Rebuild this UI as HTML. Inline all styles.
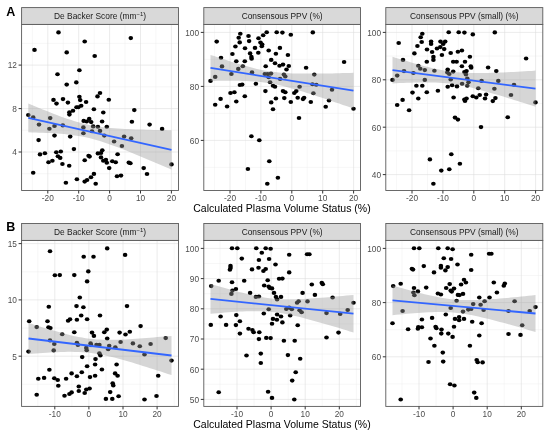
<!DOCTYPE html><html><head><meta charset="utf-8"><title>Figure</title><style>html,body{margin:0;padding:0;background:#fff}svg{display:block}</style></head><body><svg width="550" height="434" viewBox="0 0 550 434" font-family="Liberation Sans, Arial, sans-serif">
<rect width="550" height="434" fill="#fff"/>
<clipPath id="c00"><rect x="21.6" y="24.4" width="156.9" height="166.1"/></clipPath>
<rect x="21.6" y="24.4" width="156.9" height="166.1" fill="#fff"/>
<path d="M21.6 173.7H178.5M21.6 130.3H178.5M21.6 86.8H178.5M21.6 43.4H178.5M32.4 24.4V190.5M63.3 24.4V190.5M94.2 24.4V190.5M125.0 24.4V190.5M155.9 24.4V190.5" stroke="#ececec" stroke-width="0.4" fill="none"/>
<path d="M21.6 152.0H178.5M21.6 108.6H178.5M21.6 65.1H178.5M47.8 24.4V190.5M78.7 24.4V190.5M109.6 24.4V190.5M140.5 24.4V190.5M171.4 24.4V190.5" stroke="#dedede" stroke-width="0.6" fill="none"/>
<g clip-path="url(#c00)">
<g fill="#000"><ellipse cx="58.5" cy="32.4" rx="2.3" ry="2.05"/><ellipse cx="84.7" cy="41.5" rx="2.3" ry="2.05"/><ellipse cx="34.5" cy="49.9" rx="2.3" ry="2.05"/><ellipse cx="66.7" cy="52.4" rx="2.3" ry="2.05"/><ellipse cx="94.7" cy="56.0" rx="2.3" ry="2.05"/><ellipse cx="79.4" cy="70.3" rx="2.3" ry="2.05"/><ellipse cx="57.5" cy="74.2" rx="2.3" ry="2.05"/><ellipse cx="76.3" cy="82.4" rx="2.3" ry="2.05"/><ellipse cx="66.7" cy="84.6" rx="2.3" ry="2.05"/><ellipse cx="100.0" cy="93.0" rx="2.3" ry="2.05"/><ellipse cx="79.4" cy="96.7" rx="2.3" ry="2.05"/><ellipse cx="97.5" cy="96.4" rx="2.3" ry="2.05"/><ellipse cx="53.5" cy="99.9" rx="2.3" ry="2.05"/><ellipse cx="63.0" cy="99.1" rx="2.3" ry="2.05"/><ellipse cx="80.2" cy="100.1" rx="2.3" ry="2.05"/><ellipse cx="56.5" cy="103.6" rx="2.3" ry="2.05"/><ellipse cx="67.9" cy="102.6" rx="2.3" ry="2.05"/><ellipse cx="86.1" cy="102.0" rx="2.3" ry="2.05"/><ellipse cx="81.2" cy="105.8" rx="2.3" ry="2.05"/><ellipse cx="76.5" cy="107.2" rx="2.3" ry="2.05"/><ellipse cx="78.3" cy="107.2" rx="2.3" ry="2.05"/><ellipse cx="93.9" cy="109.3" rx="2.3" ry="2.05"/><ellipse cx="73.0" cy="110.7" rx="2.3" ry="2.05"/><ellipse cx="69.4" cy="112.3" rx="2.3" ry="2.05"/><ellipse cx="69.4" cy="114.6" rx="2.3" ry="2.05"/><ellipse cx="28.3" cy="115.0" rx="2.3" ry="2.05"/><ellipse cx="33.2" cy="117.4" rx="2.3" ry="2.05"/><ellipse cx="50.2" cy="118.1" rx="2.3" ry="2.05"/><ellipse cx="39.0" cy="124.6" rx="2.3" ry="2.05"/><ellipse cx="54.5" cy="126.0" rx="2.3" ry="2.05"/><ellipse cx="62.8" cy="125.4" rx="2.3" ry="2.05"/><ellipse cx="49.4" cy="128.7" rx="2.3" ry="2.05"/><ellipse cx="83.7" cy="120.9" rx="2.3" ry="2.05"/><ellipse cx="86.7" cy="121.5" rx="2.3" ry="2.05"/><ellipse cx="89.2" cy="118.9" rx="2.3" ry="2.05"/><ellipse cx="91.2" cy="122.1" rx="2.3" ry="2.05"/><ellipse cx="83.4" cy="127.4" rx="2.3" ry="2.05"/><ellipse cx="93.2" cy="126.4" rx="2.3" ry="2.05"/><ellipse cx="97.9" cy="126.8" rx="2.3" ry="2.05"/><ellipse cx="83.4" cy="133.2" rx="2.3" ry="2.05"/><ellipse cx="92.0" cy="131.3" rx="2.3" ry="2.05"/><ellipse cx="100.0" cy="130.9" rx="2.3" ry="2.05"/><ellipse cx="54.5" cy="135.6" rx="2.3" ry="2.05"/><ellipse cx="70.2" cy="136.6" rx="2.3" ry="2.05"/><ellipse cx="38.6" cy="140.1" rx="2.3" ry="2.05"/><ellipse cx="73.9" cy="149.1" rx="2.3" ry="2.05"/><ellipse cx="56.3" cy="152.3" rx="2.3" ry="2.05"/><ellipse cx="60.8" cy="151.5" rx="2.3" ry="2.05"/><ellipse cx="40.0" cy="154.4" rx="2.3" ry="2.05"/><ellipse cx="44.9" cy="153.2" rx="2.3" ry="2.05"/><ellipse cx="57.9" cy="156.2" rx="2.3" ry="2.05"/><ellipse cx="60.2" cy="157.9" rx="2.3" ry="2.05"/><ellipse cx="88.6" cy="155.8" rx="2.3" ry="2.05"/><ellipse cx="89.6" cy="156.6" rx="2.3" ry="2.05"/><ellipse cx="97.9" cy="153.4" rx="2.3" ry="2.05"/><ellipse cx="84.7" cy="160.3" rx="2.3" ry="2.05"/><ellipse cx="52.4" cy="160.7" rx="2.3" ry="2.05"/><ellipse cx="48.5" cy="162.3" rx="2.3" ry="2.05"/><ellipse cx="62.4" cy="164.0" rx="2.3" ry="2.05"/><ellipse cx="69.2" cy="165.8" rx="2.3" ry="2.05"/><ellipse cx="33.2" cy="172.7" rx="2.3" ry="2.05"/><ellipse cx="93.9" cy="173.9" rx="2.3" ry="2.05"/><ellipse cx="91.0" cy="177.3" rx="2.3" ry="2.05"/><ellipse cx="76.9" cy="179.2" rx="2.3" ry="2.05"/><ellipse cx="87.1" cy="180.0" rx="2.3" ry="2.05"/><ellipse cx="84.7" cy="181.6" rx="2.3" ry="2.05"/><ellipse cx="65.9" cy="182.7" rx="2.3" ry="2.05"/><ellipse cx="95.7" cy="183.7" rx="2.3" ry="2.05"/><ellipse cx="130.8" cy="38.1" rx="2.3" ry="2.05"/><ellipse cx="108.8" cy="99.7" rx="2.3" ry="2.05"/><ellipse cx="134.3" cy="110.1" rx="2.3" ry="2.05"/><ellipse cx="103.3" cy="112.5" rx="2.3" ry="2.05"/><ellipse cx="102.1" cy="121.5" rx="2.3" ry="2.05"/><ellipse cx="131.9" cy="121.7" rx="2.3" ry="2.05"/><ellipse cx="149.6" cy="124.6" rx="2.3" ry="2.05"/><ellipse cx="106.8" cy="126.8" rx="2.3" ry="2.05"/><ellipse cx="162.1" cy="128.9" rx="2.3" ry="2.05"/><ellipse cx="104.3" cy="135.6" rx="2.3" ry="2.05"/><ellipse cx="124.1" cy="136.6" rx="2.3" ry="2.05"/><ellipse cx="131.2" cy="138.3" rx="2.3" ry="2.05"/><ellipse cx="114.1" cy="141.5" rx="2.3" ry="2.05"/><ellipse cx="121.9" cy="146.0" rx="2.3" ry="2.05"/><ellipse cx="102.3" cy="150.3" rx="2.3" ry="2.05"/><ellipse cx="101.0" cy="153.0" rx="2.3" ry="2.05"/><ellipse cx="117.6" cy="154.2" rx="2.3" ry="2.05"/><ellipse cx="101.0" cy="157.4" rx="2.3" ry="2.05"/><ellipse cx="103.3" cy="160.7" rx="2.3" ry="2.05"/><ellipse cx="105.9" cy="159.7" rx="2.3" ry="2.05"/><ellipse cx="106.8" cy="162.8" rx="2.3" ry="2.05"/><ellipse cx="112.3" cy="161.3" rx="2.3" ry="2.05"/><ellipse cx="115.7" cy="162.3" rx="2.3" ry="2.05"/><ellipse cx="128.8" cy="162.6" rx="2.3" ry="2.05"/><ellipse cx="130.4" cy="163.2" rx="2.3" ry="2.05"/><ellipse cx="109.2" cy="168.1" rx="2.3" ry="2.05"/><ellipse cx="143.7" cy="168.1" rx="2.3" ry="2.05"/><ellipse cx="147.0" cy="174.0" rx="2.3" ry="2.05"/><ellipse cx="117.0" cy="176.2" rx="2.3" ry="2.05"/><ellipse cx="121.0" cy="175.6" rx="2.3" ry="2.05"/><ellipse cx="171.5" cy="164.4" rx="2.3" ry="2.05"/></g>
<polygon points="28.3,103.5 31.9,105.0 35.5,106.5 39.0,107.9 42.6,109.4 46.2,110.8 49.8,112.3 53.4,113.7 56.9,115.0 60.5,116.4 64.1,117.7 67.7,118.9 71.3,120.1 74.8,121.2 78.4,122.3 82.0,123.3 85.6,124.1 89.2,124.9 92.7,125.6 96.3,126.2 99.9,126.8 103.5,127.2 107.1,127.6 110.6,127.9 114.2,128.2 117.8,128.5 121.4,128.7 125.0,128.9 128.5,129.1 132.1,129.2 135.7,129.4 139.3,129.5 142.9,129.6 146.4,129.7 150.0,129.8 153.6,129.9 157.2,130.0 160.8,130.1 164.3,130.1 167.9,130.2 171.5,130.3 171.5,169.5 167.9,168.0 164.3,166.5 160.8,164.9 157.2,163.4 153.6,161.9 150.0,160.4 146.4,158.9 142.9,157.4 139.3,155.9 135.7,154.4 132.1,153.0 128.5,151.5 125.0,150.1 121.4,148.7 117.8,147.3 114.2,146.0 110.6,144.7 107.1,143.4 103.5,142.2 99.9,141.0 96.3,140.0 92.7,139.0 89.2,138.1 85.6,137.3 82.0,136.5 78.4,135.9 74.8,135.4 71.3,134.9 67.7,134.5 64.1,134.1 60.5,133.8 56.9,133.6 53.4,133.3 49.8,133.1 46.2,133.0 42.6,132.8 39.0,132.7 35.5,132.5 31.9,132.4 28.3,132.3" fill="#999" fill-opacity="0.4"/>
<line x1="28.3" y1="117.9" x2="171.5" y2="149.9" stroke="#3366ff" stroke-width="1.8"/>
</g>
<rect x="21.6" y="24.4" width="156.9" height="166.1" fill="none" stroke="#5a5a5a" stroke-width="0.9"/>
<rect x="21.6" y="7.6" width="156.9" height="16.8" fill="#d9d9d9" stroke="#5a5a5a" stroke-width="0.9"/>
<text x="100.05" y="19.0" font-size="8.4" fill="#1a1a1a" text-anchor="middle">De Backer Score (mm<tspan font-size="6" dy="-3">−1</tspan><tspan dy="3">)</tspan></text>
<text x="16.9" y="155.3" font-size="8.3" fill="#4d4d4d" text-anchor="end">4</text>
<text x="16.9" y="111.9" font-size="8.3" fill="#4d4d4d" text-anchor="end">8</text>
<text x="16.9" y="68.4" font-size="8.3" fill="#4d4d4d" text-anchor="end">12</text>
<text x="47.8" y="200.6" font-size="8.3" fill="#4d4d4d" text-anchor="middle">-20</text>
<text x="78.7" y="200.6" font-size="8.3" fill="#4d4d4d" text-anchor="middle">-10</text>
<text x="109.6" y="200.6" font-size="8.3" fill="#4d4d4d" text-anchor="middle">0</text>
<text x="140.5" y="200.6" font-size="8.3" fill="#4d4d4d" text-anchor="middle">10</text>
<text x="171.4" y="200.6" font-size="8.3" fill="#4d4d4d" text-anchor="middle">20</text>
<path d="M18.6 152.0H21.6M18.6 108.6H21.6M18.6 65.1H21.6M47.8 190.5V193.5M78.7 190.5V193.5M109.6 190.5V193.5M140.5 190.5V193.5M171.4 190.5V193.5" stroke="#333" stroke-width="1" fill="none"/>
<clipPath id="c01"><rect x="203.8" y="24.4" width="156.7" height="166.1"/></clipPath>
<rect x="203.8" y="24.4" width="156.7" height="166.1" fill="#fff"/>
<path d="M203.8 167.4H360.5M203.8 113.4H360.5M203.8 59.4H360.5M214.6 24.4V190.5M245.5 24.4V190.5M276.4 24.4V190.5M307.2 24.4V190.5M338.1 24.4V190.5" stroke="#ececec" stroke-width="0.4" fill="none"/>
<path d="M203.8 140.4H360.5M203.8 86.4H360.5M203.8 32.4H360.5M230.0 24.4V190.5M260.9 24.4V190.5M291.8 24.4V190.5M322.7 24.4V190.5M353.6 24.4V190.5" stroke="#dedede" stroke-width="0.6" fill="none"/>
<g clip-path="url(#c01)">
<g fill="#000"><ellipse cx="266.7" cy="32.2" rx="2.3" ry="2.05"/><ellipse cx="276.7" cy="32.2" rx="2.3" ry="2.05"/><ellipse cx="282.4" cy="32.6" rx="2.3" ry="2.05"/><ellipse cx="240.3" cy="33.8" rx="2.3" ry="2.05"/><ellipse cx="248.5" cy="36.0" rx="2.3" ry="2.05"/><ellipse cx="263.2" cy="35.2" rx="2.3" ry="2.05"/><ellipse cx="238.7" cy="37.7" rx="2.3" ry="2.05"/><ellipse cx="258.5" cy="38.3" rx="2.3" ry="2.05"/><ellipse cx="216.7" cy="41.6" rx="2.3" ry="2.05"/><ellipse cx="239.7" cy="42.4" rx="2.3" ry="2.05"/><ellipse cx="249.1" cy="41.1" rx="2.3" ry="2.05"/><ellipse cx="260.5" cy="42.6" rx="2.3" ry="2.05"/><ellipse cx="262.2" cy="44.6" rx="2.3" ry="2.05"/><ellipse cx="261.8" cy="46.2" rx="2.3" ry="2.05"/><ellipse cx="235.4" cy="46.5" rx="2.3" ry="2.05"/><ellipse cx="245.0" cy="48.3" rx="2.3" ry="2.05"/><ellipse cx="255.0" cy="47.9" rx="2.3" ry="2.05"/><ellipse cx="279.9" cy="47.9" rx="2.3" ry="2.05"/><ellipse cx="268.7" cy="50.5" rx="2.3" ry="2.05"/><ellipse cx="232.4" cy="54.0" rx="2.3" ry="2.05"/><ellipse cx="250.1" cy="53.4" rx="2.3" ry="2.05"/><ellipse cx="258.3" cy="52.8" rx="2.3" ry="2.05"/><ellipse cx="275.9" cy="53.8" rx="2.3" ry="2.05"/><ellipse cx="251.4" cy="56.9" rx="2.3" ry="2.05"/><ellipse cx="251.6" cy="58.7" rx="2.3" ry="2.05"/><ellipse cx="221.0" cy="57.7" rx="2.3" ry="2.05"/><ellipse cx="236.3" cy="61.3" rx="2.3" ry="2.05"/><ellipse cx="244.8" cy="61.3" rx="2.3" ry="2.05"/><ellipse cx="271.2" cy="59.9" rx="2.3" ry="2.05"/><ellipse cx="275.0" cy="63.2" rx="2.3" ry="2.05"/><ellipse cx="222.0" cy="66.4" rx="2.3" ry="2.05"/><ellipse cx="242.8" cy="66.2" rx="2.3" ry="2.05"/><ellipse cx="265.7" cy="66.2" rx="2.3" ry="2.05"/><ellipse cx="279.5" cy="65.8" rx="2.3" ry="2.05"/><ellipse cx="238.3" cy="68.9" rx="2.3" ry="2.05"/><ellipse cx="252.0" cy="72.4" rx="2.3" ry="2.05"/><ellipse cx="231.4" cy="74.0" rx="2.3" ry="2.05"/><ellipse cx="264.8" cy="74.0" rx="2.3" ry="2.05"/><ellipse cx="267.7" cy="74.0" rx="2.3" ry="2.05"/><ellipse cx="271.0" cy="73.6" rx="2.3" ry="2.05"/><ellipse cx="215.2" cy="76.9" rx="2.3" ry="2.05"/><ellipse cx="268.7" cy="77.3" rx="2.3" ry="2.05"/><ellipse cx="280.1" cy="78.9" rx="2.3" ry="2.05"/><ellipse cx="210.5" cy="80.9" rx="2.3" ry="2.05"/><ellipse cx="270.1" cy="82.2" rx="2.3" ry="2.05"/><ellipse cx="255.9" cy="83.8" rx="2.3" ry="2.05"/><ellipse cx="239.9" cy="85.0" rx="2.3" ry="2.05"/><ellipse cx="242.2" cy="84.6" rx="2.3" ry="2.05"/><ellipse cx="273.0" cy="85.8" rx="2.3" ry="2.05"/><ellipse cx="275.0" cy="86.7" rx="2.3" ry="2.05"/><ellipse cx="265.4" cy="91.1" rx="2.3" ry="2.05"/><ellipse cx="230.5" cy="93.0" rx="2.3" ry="2.05"/><ellipse cx="234.4" cy="92.2" rx="2.3" ry="2.05"/><ellipse cx="244.8" cy="96.2" rx="2.3" ry="2.05"/><ellipse cx="275.9" cy="98.5" rx="2.3" ry="2.05"/><ellipse cx="220.6" cy="98.9" rx="2.3" ry="2.05"/><ellipse cx="236.3" cy="101.5" rx="2.3" ry="2.05"/><ellipse cx="271.2" cy="102.4" rx="2.3" ry="2.05"/><ellipse cx="215.2" cy="104.8" rx="2.3" ry="2.05"/><ellipse cx="227.1" cy="106.5" rx="2.3" ry="2.05"/><ellipse cx="273.0" cy="109.2" rx="2.3" ry="2.05"/><ellipse cx="251.4" cy="136.3" rx="2.3" ry="2.05"/><ellipse cx="259.3" cy="140.2" rx="2.3" ry="2.05"/><ellipse cx="269.3" cy="161.2" rx="2.3" ry="2.05"/><ellipse cx="247.9" cy="169.0" rx="2.3" ry="2.05"/><ellipse cx="277.9" cy="177.8" rx="2.3" ry="2.05"/><ellipse cx="267.3" cy="183.7" rx="2.3" ry="2.05"/><ellipse cx="290.8" cy="34.8" rx="2.3" ry="2.05"/><ellipse cx="312.8" cy="32.4" rx="2.3" ry="2.05"/><ellipse cx="287.9" cy="55.0" rx="2.3" ry="2.05"/><ellipse cx="344.1" cy="62.0" rx="2.3" ry="2.05"/><ellipse cx="283.0" cy="64.6" rx="2.3" ry="2.05"/><ellipse cx="288.8" cy="66.0" rx="2.3" ry="2.05"/><ellipse cx="286.5" cy="69.5" rx="2.3" ry="2.05"/><ellipse cx="306.1" cy="67.7" rx="2.3" ry="2.05"/><ellipse cx="283.9" cy="74.6" rx="2.3" ry="2.05"/><ellipse cx="285.3" cy="76.5" rx="2.3" ry="2.05"/><ellipse cx="314.3" cy="74.6" rx="2.3" ry="2.05"/><ellipse cx="312.4" cy="84.2" rx="2.3" ry="2.05"/><ellipse cx="316.3" cy="84.8" rx="2.3" ry="2.05"/><ellipse cx="299.6" cy="86.7" rx="2.3" ry="2.05"/><ellipse cx="332.0" cy="89.7" rx="2.3" ry="2.05"/><ellipse cx="283.0" cy="91.1" rx="2.3" ry="2.05"/><ellipse cx="285.3" cy="92.2" rx="2.3" ry="2.05"/><ellipse cx="296.3" cy="91.1" rx="2.3" ry="2.05"/><ellipse cx="294.3" cy="93.0" rx="2.3" ry="2.05"/><ellipse cx="313.4" cy="93.2" rx="2.3" ry="2.05"/><ellipse cx="284.3" cy="98.1" rx="2.3" ry="2.05"/><ellipse cx="297.7" cy="97.7" rx="2.3" ry="2.05"/><ellipse cx="304.1" cy="97.7" rx="2.3" ry="2.05"/><ellipse cx="303.0" cy="99.1" rx="2.3" ry="2.05"/><ellipse cx="290.8" cy="102.0" rx="2.3" ry="2.05"/><ellipse cx="310.8" cy="102.0" rx="2.3" ry="2.05"/><ellipse cx="329.0" cy="100.5" rx="2.3" ry="2.05"/><ellipse cx="325.7" cy="106.7" rx="2.3" ry="2.05"/><ellipse cx="353.5" cy="108.7" rx="2.3" ry="2.05"/><ellipse cx="299.0" cy="118.0" rx="2.3" ry="2.05"/></g>
<polygon points="210.5,54.9 214.1,56.1 217.7,57.3 221.2,58.4 224.8,59.6 228.4,60.8 231.9,61.9 235.5,63.0 239.1,64.1 242.7,65.1 246.2,66.1 249.8,67.1 253.4,68.0 257.0,68.9 260.6,69.7 264.1,70.4 267.7,71.0 271.3,71.6 274.9,72.1 278.4,72.4 282.0,72.8 285.6,73.0 289.1,73.2 292.7,73.4 296.3,73.5 299.9,73.5 303.4,73.6 307.0,73.6 310.6,73.6 314.2,73.6 317.8,73.6 321.3,73.5 324.9,73.5 328.5,73.4 332.1,73.4 335.6,73.3 339.2,73.2 342.8,73.1 346.4,73.0 349.9,72.9 353.5,72.8 353.5,108.6 349.9,107.3 346.4,106.1 342.8,104.9 339.2,103.6 335.6,102.4 332.1,101.2 328.5,100.0 324.9,98.8 321.3,97.6 317.8,96.4 314.2,95.3 310.6,94.1 307.0,93.0 303.4,91.8 299.9,90.8 296.3,89.7 292.7,88.7 289.1,87.7 285.6,86.7 282.0,85.8 278.4,85.0 274.9,84.3 271.3,83.6 267.7,83.0 264.1,82.5 260.6,82.1 257.0,81.7 253.4,81.4 249.8,81.2 246.2,81.1 242.7,80.9 239.1,80.8 235.5,80.8 231.9,80.8 228.4,80.7 224.8,80.7 221.2,80.8 217.7,80.8 214.1,80.9 210.5,80.9" fill="#999" fill-opacity="0.4"/>
<line x1="210.5" y1="67.9" x2="353.5" y2="90.7" stroke="#3366ff" stroke-width="1.8"/>
</g>
<rect x="203.8" y="24.4" width="156.7" height="166.1" fill="none" stroke="#5a5a5a" stroke-width="0.9"/>
<rect x="203.8" y="7.6" width="156.7" height="16.8" fill="#d9d9d9" stroke="#5a5a5a" stroke-width="0.9"/>
<text x="282.15" y="19.0" font-size="8.4" fill="#1a1a1a" text-anchor="middle">Consensous PPV (%)</text>
<text x="199.1" y="143.7" font-size="8.3" fill="#4d4d4d" text-anchor="end">60</text>
<text x="199.1" y="89.7" font-size="8.3" fill="#4d4d4d" text-anchor="end">80</text>
<text x="199.1" y="35.7" font-size="8.3" fill="#4d4d4d" text-anchor="end">100</text>
<text x="230.0" y="200.6" font-size="8.3" fill="#4d4d4d" text-anchor="middle">-20</text>
<text x="260.9" y="200.6" font-size="8.3" fill="#4d4d4d" text-anchor="middle">-10</text>
<text x="291.8" y="200.6" font-size="8.3" fill="#4d4d4d" text-anchor="middle">0</text>
<text x="322.7" y="200.6" font-size="8.3" fill="#4d4d4d" text-anchor="middle">10</text>
<text x="353.6" y="200.6" font-size="8.3" fill="#4d4d4d" text-anchor="middle">20</text>
<path d="M200.8 140.4H203.8M200.8 86.4H203.8M200.8 32.4H203.8M230.0 190.5V193.5M260.9 190.5V193.5M291.8 190.5V193.5M322.7 190.5V193.5M353.6 190.5V193.5" stroke="#333" stroke-width="1" fill="none"/>
<clipPath id="c02"><rect x="385.8" y="24.4" width="157.0" height="166.1"/></clipPath>
<rect x="385.8" y="24.4" width="157.0" height="166.1" fill="#fff"/>
<path d="M385.8 150.9H542.8M385.8 103.5H542.8M385.8 56.1H542.8M396.6 24.4V190.5M427.5 24.4V190.5M458.4 24.4V190.5M489.2 24.4V190.5M520.1 24.4V190.5" stroke="#ececec" stroke-width="0.4" fill="none"/>
<path d="M385.8 174.6H542.8M385.8 127.2H542.8M385.8 79.8H542.8M385.8 32.4H542.8M412.0 24.4V190.5M442.9 24.4V190.5M473.8 24.4V190.5M504.7 24.4V190.5M535.6 24.4V190.5" stroke="#dedede" stroke-width="0.6" fill="none"/>
<g clip-path="url(#c02)">
<g fill="#000"><ellipse cx="448.7" cy="32.2" rx="2.3" ry="2.05"/><ellipse cx="458.7" cy="32.2" rx="2.3" ry="2.05"/><ellipse cx="464.4" cy="32.6" rx="2.3" ry="2.05"/><ellipse cx="422.3" cy="33.8" rx="2.3" ry="2.05"/><ellipse cx="420.7" cy="37.3" rx="2.3" ry="2.05"/><ellipse cx="398.7" cy="43.0" rx="2.3" ry="2.05"/><ellipse cx="421.7" cy="42.0" rx="2.3" ry="2.05"/><ellipse cx="431.1" cy="41.6" rx="2.3" ry="2.05"/><ellipse cx="431.1" cy="44.0" rx="2.3" ry="2.05"/><ellipse cx="440.5" cy="41.6" rx="2.3" ry="2.05"/><ellipse cx="445.2" cy="41.6" rx="2.3" ry="2.05"/><ellipse cx="443.2" cy="44.0" rx="2.3" ry="2.05"/><ellipse cx="417.4" cy="46.0" rx="2.3" ry="2.05"/><ellipse cx="437.0" cy="48.5" rx="2.3" ry="2.05"/><ellipse cx="440.3" cy="47.1" rx="2.3" ry="2.05"/><ellipse cx="444.2" cy="49.1" rx="2.3" ry="2.05"/><ellipse cx="427.0" cy="49.5" rx="2.3" ry="2.05"/><ellipse cx="432.1" cy="52.0" rx="2.3" ry="2.05"/><ellipse cx="461.9" cy="50.5" rx="2.3" ry="2.05"/><ellipse cx="457.9" cy="51.8" rx="2.3" ry="2.05"/><ellipse cx="414.4" cy="53.4" rx="2.3" ry="2.05"/><ellipse cx="450.7" cy="53.0" rx="2.3" ry="2.05"/><ellipse cx="441.9" cy="55.0" rx="2.3" ry="2.05"/><ellipse cx="433.4" cy="56.9" rx="2.3" ry="2.05"/><ellipse cx="433.4" cy="59.9" rx="2.3" ry="2.05"/><ellipse cx="403.0" cy="59.9" rx="2.3" ry="2.05"/><ellipse cx="426.8" cy="61.8" rx="2.3" ry="2.05"/><ellipse cx="453.2" cy="61.8" rx="2.3" ry="2.05"/><ellipse cx="456.6" cy="61.8" rx="2.3" ry="2.05"/><ellipse cx="418.3" cy="65.8" rx="2.3" ry="2.05"/><ellipse cx="461.9" cy="66.2" rx="2.3" ry="2.05"/><ellipse cx="420.3" cy="68.7" rx="2.3" ry="2.05"/><ellipse cx="424.8" cy="70.1" rx="2.3" ry="2.05"/><ellipse cx="447.7" cy="69.5" rx="2.3" ry="2.05"/><ellipse cx="434.4" cy="70.7" rx="2.3" ry="2.05"/><ellipse cx="404.0" cy="71.1" rx="2.3" ry="2.05"/><ellipse cx="453.2" cy="71.6" rx="2.3" ry="2.05"/><ellipse cx="447.4" cy="72.4" rx="2.3" ry="2.05"/><ellipse cx="464.4" cy="72.0" rx="2.3" ry="2.05"/><ellipse cx="413.4" cy="73.0" rx="2.3" ry="2.05"/><ellipse cx="449.3" cy="74.0" rx="2.3" ry="2.05"/><ellipse cx="397.2" cy="75.6" rx="2.3" ry="2.05"/><ellipse cx="450.7" cy="79.5" rx="2.3" ry="2.05"/><ellipse cx="392.5" cy="79.9" rx="2.3" ry="2.05"/><ellipse cx="424.8" cy="79.9" rx="2.3" ry="2.05"/><ellipse cx="462.1" cy="83.8" rx="2.3" ry="2.05"/><ellipse cx="416.4" cy="85.8" rx="2.3" ry="2.05"/><ellipse cx="422.3" cy="85.8" rx="2.3" ry="2.05"/><ellipse cx="452.1" cy="85.2" rx="2.3" ry="2.05"/><ellipse cx="447.7" cy="86.7" rx="2.3" ry="2.05"/><ellipse cx="457.0" cy="86.4" rx="2.3" ry="2.05"/><ellipse cx="437.9" cy="90.7" rx="2.3" ry="2.05"/><ellipse cx="412.5" cy="92.6" rx="2.3" ry="2.05"/><ellipse cx="426.8" cy="92.2" rx="2.3" ry="2.05"/><ellipse cx="453.6" cy="97.5" rx="2.3" ry="2.05"/><ellipse cx="418.3" cy="98.5" rx="2.3" ry="2.05"/><ellipse cx="402.6" cy="99.9" rx="2.3" ry="2.05"/><ellipse cx="464.4" cy="99.5" rx="2.3" ry="2.05"/><ellipse cx="397.2" cy="105.0" rx="2.3" ry="2.05"/><ellipse cx="409.1" cy="110.2" rx="2.3" ry="2.05"/><ellipse cx="455.0" cy="117.6" rx="2.3" ry="2.05"/><ellipse cx="457.9" cy="119.6" rx="2.3" ry="2.05"/><ellipse cx="451.3" cy="154.3" rx="2.3" ry="2.05"/><ellipse cx="429.9" cy="159.4" rx="2.3" ry="2.05"/><ellipse cx="459.9" cy="163.7" rx="2.3" ry="2.05"/><ellipse cx="441.3" cy="170.6" rx="2.3" ry="2.05"/><ellipse cx="449.3" cy="169.2" rx="2.3" ry="2.05"/><ellipse cx="433.4" cy="183.7" rx="2.3" ry="2.05"/><ellipse cx="472.8" cy="34.4" rx="2.3" ry="2.05"/><ellipse cx="494.8" cy="32.4" rx="2.3" ry="2.05"/><ellipse cx="469.9" cy="56.7" rx="2.3" ry="2.05"/><ellipse cx="526.1" cy="58.5" rx="2.3" ry="2.05"/><ellipse cx="465.0" cy="61.8" rx="2.3" ry="2.05"/><ellipse cx="470.8" cy="66.2" rx="2.3" ry="2.05"/><ellipse cx="471.2" cy="67.7" rx="2.3" ry="2.05"/><ellipse cx="488.1" cy="67.5" rx="2.3" ry="2.05"/><ellipse cx="466.5" cy="71.1" rx="2.3" ry="2.05"/><ellipse cx="496.3" cy="71.1" rx="2.3" ry="2.05"/><ellipse cx="465.9" cy="74.4" rx="2.3" ry="2.05"/><ellipse cx="467.3" cy="78.5" rx="2.3" ry="2.05"/><ellipse cx="481.6" cy="80.9" rx="2.3" ry="2.05"/><ellipse cx="498.3" cy="80.9" rx="2.3" ry="2.05"/><ellipse cx="468.5" cy="82.2" rx="2.3" ry="2.05"/><ellipse cx="514.0" cy="84.8" rx="2.3" ry="2.05"/><ellipse cx="467.3" cy="85.8" rx="2.3" ry="2.05"/><ellipse cx="478.3" cy="88.3" rx="2.3" ry="2.05"/><ellipse cx="494.4" cy="88.7" rx="2.3" ry="2.05"/><ellipse cx="511.0" cy="95.0" rx="2.3" ry="2.05"/><ellipse cx="486.1" cy="94.6" rx="2.3" ry="2.05"/><ellipse cx="479.7" cy="95.0" rx="2.3" ry="2.05"/><ellipse cx="472.8" cy="96.2" rx="2.3" ry="2.05"/><ellipse cx="476.3" cy="97.5" rx="2.3" ry="2.05"/><ellipse cx="466.5" cy="98.5" rx="2.3" ry="2.05"/><ellipse cx="485.0" cy="98.5" rx="2.3" ry="2.05"/><ellipse cx="495.4" cy="98.1" rx="2.3" ry="2.05"/><ellipse cx="465.0" cy="100.9" rx="2.3" ry="2.05"/><ellipse cx="492.8" cy="101.1" rx="2.3" ry="2.05"/><ellipse cx="535.5" cy="102.4" rx="2.3" ry="2.05"/><ellipse cx="507.7" cy="117.3" rx="2.3" ry="2.05"/><ellipse cx="481.0" cy="127.1" rx="2.3" ry="2.05"/></g>
<polygon points="392.5,56.8 396.1,57.9 399.6,59.0 403.2,60.1 406.8,61.1 410.4,62.2 413.9,63.2 417.5,64.2 421.1,65.2 424.7,66.2 428.2,67.1 431.8,68.0 435.4,68.8 439.0,69.6 442.6,70.3 446.1,71.0 449.7,71.5 453.3,72.0 456.9,72.3 460.4,72.6 464.0,72.8 467.6,73.0 471.1,73.1 474.7,73.1 478.3,73.1 481.9,73.1 485.4,73.0 489.0,72.9 492.6,72.8 496.2,72.7 499.8,72.6 503.3,72.4 506.9,72.2 510.5,72.1 514.0,71.9 517.6,71.7 521.2,71.5 524.8,71.3 528.4,71.1 531.9,70.9 535.5,70.6 535.5,106.8 531.9,105.6 528.4,104.5 524.8,103.3 521.2,102.2 517.6,101.1 514.0,100.0 510.5,98.8 506.9,97.7 503.3,96.6 499.8,95.5 496.2,94.5 492.6,93.4 489.0,92.4 485.4,91.4 481.9,90.4 478.3,89.4 474.7,88.5 471.1,87.6 467.6,86.7 464.0,86.0 460.4,85.2 456.9,84.6 453.3,84.0 449.7,83.6 446.1,83.2 442.6,82.9 439.0,82.7 435.4,82.5 431.8,82.4 428.2,82.4 424.7,82.4 421.1,82.4 417.5,82.5 413.9,82.6 410.4,82.7 406.8,82.8 403.2,82.9 399.6,83.1 396.1,83.3 392.5,83.4" fill="#999" fill-opacity="0.4"/>
<line x1="392.5" y1="70.1" x2="535.5" y2="88.7" stroke="#3366ff" stroke-width="1.8"/>
</g>
<rect x="385.8" y="24.4" width="157.0" height="166.1" fill="none" stroke="#5a5a5a" stroke-width="0.9"/>
<rect x="385.8" y="7.6" width="157.0" height="16.8" fill="#d9d9d9" stroke="#5a5a5a" stroke-width="0.9"/>
<text x="464.29999999999995" y="19.0" font-size="8.4" fill="#1a1a1a" text-anchor="middle">Consensous PPV (small) (%)</text>
<text x="381.1" y="177.9" font-size="8.3" fill="#4d4d4d" text-anchor="end">40</text>
<text x="381.1" y="130.5" font-size="8.3" fill="#4d4d4d" text-anchor="end">60</text>
<text x="381.1" y="83.1" font-size="8.3" fill="#4d4d4d" text-anchor="end">80</text>
<text x="381.1" y="35.7" font-size="8.3" fill="#4d4d4d" text-anchor="end">100</text>
<text x="412.0" y="200.6" font-size="8.3" fill="#4d4d4d" text-anchor="middle">-20</text>
<text x="442.9" y="200.6" font-size="8.3" fill="#4d4d4d" text-anchor="middle">-10</text>
<text x="473.8" y="200.6" font-size="8.3" fill="#4d4d4d" text-anchor="middle">0</text>
<text x="504.7" y="200.6" font-size="8.3" fill="#4d4d4d" text-anchor="middle">10</text>
<text x="535.6" y="200.6" font-size="8.3" fill="#4d4d4d" text-anchor="middle">20</text>
<path d="M382.8 174.6H385.8M382.8 127.2H385.8M382.8 79.8H385.8M382.8 32.4H385.8M412.0 190.5V193.5M442.9 190.5V193.5M473.8 190.5V193.5M504.7 190.5V193.5M535.6 190.5V193.5" stroke="#333" stroke-width="1" fill="none"/>
<text x="282" y="211.9" font-size="10.5" fill="#000" text-anchor="middle">Calculated Plasma Volume Status (%)</text>
<text x="6.3" y="15.5" font-size="12.5" font-weight="bold" fill="#000">A</text>
<clipPath id="c10"><rect x="21.6" y="240.4" width="156.9" height="166.0"/></clipPath>
<rect x="21.6" y="240.4" width="156.9" height="166.0" fill="#fff"/>
<path d="M21.6 384.3H178.5M21.6 328.1H178.5M21.6 271.8H178.5M37.8 240.4V406.4M71.9 240.4V406.4M106.0 240.4V406.4M140.1 240.4V406.4M174.2 240.4V406.4" stroke="#ececec" stroke-width="0.4" fill="none"/>
<path d="M21.6 356.2H178.5M21.6 299.9H178.5M21.6 243.6H178.5M54.8 240.4V406.4M88.9 240.4V406.4M123.0 240.4V406.4M157.1 240.4V406.4" stroke="#dedede" stroke-width="0.6" fill="none"/>
<g clip-path="url(#c10)">
<g fill="#000"><ellipse cx="50.0" cy="251.2" rx="2.3" ry="2.05"/><ellipse cx="83.7" cy="256.7" rx="2.3" ry="2.05"/><ellipse cx="93.5" cy="256.7" rx="2.3" ry="2.05"/><ellipse cx="88.3" cy="271.4" rx="2.3" ry="2.05"/><ellipse cx="54.9" cy="275.3" rx="2.3" ry="2.05"/><ellipse cx="59.8" cy="275.1" rx="2.3" ry="2.05"/><ellipse cx="74.3" cy="275.1" rx="2.3" ry="2.05"/><ellipse cx="87.1" cy="281.4" rx="2.3" ry="2.05"/><ellipse cx="79.8" cy="297.5" rx="2.3" ry="2.05"/><ellipse cx="48.8" cy="306.7" rx="2.3" ry="2.05"/><ellipse cx="76.5" cy="306.1" rx="2.3" ry="2.05"/><ellipse cx="83.4" cy="307.3" rx="2.3" ry="2.05"/><ellipse cx="81.2" cy="315.5" rx="2.3" ry="2.05"/><ellipse cx="100.0" cy="315.5" rx="2.3" ry="2.05"/><ellipse cx="29.2" cy="321.2" rx="2.3" ry="2.05"/><ellipse cx="47.5" cy="321.2" rx="2.3" ry="2.05"/><ellipse cx="70.0" cy="319.3" rx="2.3" ry="2.05"/><ellipse cx="68.1" cy="320.8" rx="2.3" ry="2.05"/><ellipse cx="76.9" cy="319.8" rx="2.3" ry="2.05"/><ellipse cx="87.1" cy="319.3" rx="2.3" ry="2.05"/><ellipse cx="36.7" cy="327.1" rx="2.3" ry="2.05"/><ellipse cx="48.5" cy="327.3" rx="2.3" ry="2.05"/><ellipse cx="50.4" cy="328.1" rx="2.3" ry="2.05"/><ellipse cx="74.3" cy="332.2" rx="2.3" ry="2.05"/><ellipse cx="92.0" cy="332.6" rx="2.3" ry="2.05"/><ellipse cx="93.9" cy="335.9" rx="2.3" ry="2.05"/><ellipse cx="62.2" cy="334.2" rx="2.3" ry="2.05"/><ellipse cx="50.0" cy="340.4" rx="2.3" ry="2.05"/><ellipse cx="54.3" cy="344.0" rx="2.3" ry="2.05"/><ellipse cx="76.9" cy="342.8" rx="2.3" ry="2.05"/><ellipse cx="77.9" cy="344.9" rx="2.3" ry="2.05"/><ellipse cx="90.6" cy="343.4" rx="2.3" ry="2.05"/><ellipse cx="91.0" cy="345.1" rx="2.3" ry="2.05"/><ellipse cx="86.3" cy="347.9" rx="2.3" ry="2.05"/><ellipse cx="86.7" cy="350.2" rx="2.3" ry="2.05"/><ellipse cx="96.5" cy="344.9" rx="2.3" ry="2.05"/><ellipse cx="99.4" cy="344.9" rx="2.3" ry="2.05"/><ellipse cx="53.7" cy="350.4" rx="2.3" ry="2.05"/><ellipse cx="28.5" cy="351.6" rx="2.3" ry="2.05"/><ellipse cx="99.4" cy="353.2" rx="2.3" ry="2.05"/><ellipse cx="100.4" cy="355.5" rx="2.3" ry="2.05"/><ellipse cx="82.2" cy="357.1" rx="2.3" ry="2.05"/><ellipse cx="95.5" cy="359.1" rx="2.3" ry="2.05"/><ellipse cx="95.1" cy="364.5" rx="2.3" ry="2.05"/><ellipse cx="87.1" cy="366.3" rx="2.3" ry="2.05"/><ellipse cx="49.4" cy="369.8" rx="2.3" ry="2.05"/><ellipse cx="81.8" cy="372.2" rx="2.3" ry="2.05"/><ellipse cx="71.6" cy="373.4" rx="2.3" ry="2.05"/><ellipse cx="76.9" cy="376.3" rx="2.3" ry="2.05"/><ellipse cx="95.1" cy="375.7" rx="2.3" ry="2.05"/><ellipse cx="90.0" cy="377.1" rx="2.3" ry="2.05"/><ellipse cx="38.3" cy="378.7" rx="2.3" ry="2.05"/><ellipse cx="44.1" cy="377.9" rx="2.3" ry="2.05"/><ellipse cx="54.3" cy="378.3" rx="2.3" ry="2.05"/><ellipse cx="57.7" cy="380.0" rx="2.3" ry="2.05"/><ellipse cx="66.1" cy="378.7" rx="2.3" ry="2.05"/><ellipse cx="58.3" cy="385.7" rx="2.3" ry="2.05"/><ellipse cx="78.8" cy="386.5" rx="2.3" ry="2.05"/><ellipse cx="89.6" cy="388.5" rx="2.3" ry="2.05"/><ellipse cx="86.3" cy="389.5" rx="2.3" ry="2.05"/><ellipse cx="78.8" cy="391.0" rx="2.3" ry="2.05"/><ellipse cx="84.7" cy="393.0" rx="2.3" ry="2.05"/><ellipse cx="71.6" cy="392.4" rx="2.3" ry="2.05"/><ellipse cx="69.4" cy="394.0" rx="2.3" ry="2.05"/><ellipse cx="36.7" cy="394.7" rx="2.3" ry="2.05"/><ellipse cx="64.5" cy="395.7" rx="2.3" ry="2.05"/><ellipse cx="107.2" cy="248.4" rx="2.3" ry="2.05"/><ellipse cx="125.1" cy="254.9" rx="2.3" ry="2.05"/><ellipse cx="127.0" cy="306.1" rx="2.3" ry="2.05"/><ellipse cx="140.6" cy="326.1" rx="2.3" ry="2.05"/><ellipse cx="106.8" cy="329.6" rx="2.3" ry="2.05"/><ellipse cx="104.3" cy="332.2" rx="2.3" ry="2.05"/><ellipse cx="119.6" cy="332.6" rx="2.3" ry="2.05"/><ellipse cx="129.8" cy="331.8" rx="2.3" ry="2.05"/><ellipse cx="125.5" cy="334.5" rx="2.3" ry="2.05"/><ellipse cx="107.2" cy="338.5" rx="2.3" ry="2.05"/><ellipse cx="165.7" cy="338.1" rx="2.3" ry="2.05"/><ellipse cx="120.6" cy="342.0" rx="2.3" ry="2.05"/><ellipse cx="132.9" cy="343.4" rx="2.3" ry="2.05"/><ellipse cx="150.6" cy="344.0" rx="2.3" ry="2.05"/><ellipse cx="109.2" cy="345.7" rx="2.3" ry="2.05"/><ellipse cx="139.8" cy="346.3" rx="2.3" ry="2.05"/><ellipse cx="115.3" cy="347.3" rx="2.3" ry="2.05"/><ellipse cx="108.2" cy="349.3" rx="2.3" ry="2.05"/><ellipse cx="144.5" cy="354.5" rx="2.3" ry="2.05"/><ellipse cx="171.5" cy="360.6" rx="2.3" ry="2.05"/><ellipse cx="116.6" cy="364.5" rx="2.3" ry="2.05"/><ellipse cx="101.9" cy="369.5" rx="2.3" ry="2.05"/><ellipse cx="115.1" cy="373.4" rx="2.3" ry="2.05"/><ellipse cx="117.6" cy="375.7" rx="2.3" ry="2.05"/><ellipse cx="158.2" cy="375.7" rx="2.3" ry="2.05"/><ellipse cx="112.7" cy="383.2" rx="2.3" ry="2.05"/><ellipse cx="113.3" cy="385.5" rx="2.3" ry="2.05"/><ellipse cx="110.2" cy="392.1" rx="2.3" ry="2.05"/><ellipse cx="105.9" cy="398.9" rx="2.3" ry="2.05"/><ellipse cx="112.3" cy="398.9" rx="2.3" ry="2.05"/><ellipse cx="118.6" cy="396.2" rx="2.3" ry="2.05"/><ellipse cx="144.5" cy="399.5" rx="2.3" ry="2.05"/><ellipse cx="156.5" cy="396.0" rx="2.3" ry="2.05"/></g>
<polygon points="28.5,322.9 32.1,324.1 35.6,325.2 39.2,326.3 42.8,327.4 46.4,328.5 50.0,329.6 53.5,330.6 57.1,331.6 60.7,332.6 64.2,333.6 67.8,334.5 71.4,335.4 75.0,336.2 78.5,336.9 82.1,337.6 85.7,338.2 89.3,338.7 92.8,339.1 96.4,339.4 100.0,339.6 103.6,339.8 107.2,339.8 110.7,339.8 114.3,339.8 117.9,339.7 121.5,339.6 125.0,339.4 128.6,339.2 132.2,339.0 135.8,338.8 139.3,338.6 142.9,338.3 146.5,338.0 150.1,337.7 153.6,337.5 157.2,337.1 160.8,336.8 164.3,336.5 167.9,336.2 171.5,335.9 171.5,375.1 167.9,373.9 164.3,372.8 160.8,371.6 157.2,370.5 153.6,369.3 150.1,368.2 146.5,367.0 142.9,365.9 139.3,364.8 135.8,363.7 132.2,362.6 128.6,361.6 125.0,360.5 121.5,359.5 117.9,358.5 114.3,357.6 110.7,356.7 107.2,355.9 103.6,355.1 100.0,354.4 96.4,353.8 92.8,353.2 89.3,352.8 85.7,352.4 82.1,352.2 78.5,352.0 75.0,351.9 71.4,351.8 67.8,351.8 64.2,351.9 60.7,352.0 57.1,352.2 53.5,352.3 50.0,352.5 46.4,352.7 42.8,353.0 39.2,353.2 35.6,353.5 32.1,353.8 28.5,354.1" fill="#999" fill-opacity="0.4"/>
<line x1="28.5" y1="338.5" x2="171.5" y2="355.5" stroke="#3366ff" stroke-width="1.8"/>
</g>
<rect x="21.6" y="240.4" width="156.9" height="166.0" fill="none" stroke="#5a5a5a" stroke-width="0.9"/>
<rect x="21.6" y="223.5" width="156.9" height="16.9" fill="#d9d9d9" stroke="#5a5a5a" stroke-width="0.9"/>
<text x="100.05" y="234.9" font-size="8.4" fill="#1a1a1a" text-anchor="middle">De Backer Score (mm<tspan font-size="6" dy="-3">−1</tspan><tspan dy="3">)</tspan></text>
<text x="16.9" y="359.5" font-size="8.3" fill="#4d4d4d" text-anchor="end">5</text>
<text x="16.9" y="303.2" font-size="8.3" fill="#4d4d4d" text-anchor="end">10</text>
<text x="16.9" y="246.9" font-size="8.3" fill="#4d4d4d" text-anchor="end">15</text>
<text x="54.8" y="417.3" font-size="8.3" fill="#4d4d4d" text-anchor="middle">-10</text>
<text x="88.9" y="417.3" font-size="8.3" fill="#4d4d4d" text-anchor="middle">0</text>
<text x="123.0" y="417.3" font-size="8.3" fill="#4d4d4d" text-anchor="middle">10</text>
<text x="157.1" y="417.3" font-size="8.3" fill="#4d4d4d" text-anchor="middle">20</text>
<path d="M18.6 356.2H21.6M18.6 299.9H21.6M18.6 243.6H21.6M54.8 406.4V409.4M88.9 406.4V409.4M123.0 406.4V409.4M157.1 406.4V409.4" stroke="#333" stroke-width="1" fill="none"/>
<clipPath id="c11"><rect x="203.8" y="240.4" width="156.7" height="166.0"/></clipPath>
<rect x="203.8" y="240.4" width="156.7" height="166.0" fill="#fff"/>
<path d="M203.8 384.3H360.5M203.8 354.1H360.5M203.8 323.9H360.5M203.8 293.7H360.5M203.8 263.5H360.5M220.0 240.4V406.4M254.1 240.4V406.4M288.2 240.4V406.4M322.2 240.4V406.4M356.4 240.4V406.4" stroke="#ececec" stroke-width="0.4" fill="none"/>
<path d="M203.8 399.4H360.5M203.8 369.2H360.5M203.8 339.0H360.5M203.8 308.8H360.5M203.8 278.6H360.5M203.8 248.4H360.5M237.0 240.4V406.4M271.1 240.4V406.4M305.2 240.4V406.4M339.3 240.4V406.4" stroke="#dedede" stroke-width="0.6" fill="none"/>
<g clip-path="url(#c11)">
<g fill="#000"><ellipse cx="232.0" cy="248.2" rx="2.3" ry="2.05"/><ellipse cx="237.3" cy="248.2" rx="2.3" ry="2.05"/><ellipse cx="256.3" cy="248.2" rx="2.3" ry="2.05"/><ellipse cx="265.7" cy="248.2" rx="2.3" ry="2.05"/><ellipse cx="270.6" cy="248.8" rx="2.3" ry="2.05"/><ellipse cx="261.8" cy="252.7" rx="2.3" ry="2.05"/><ellipse cx="241.8" cy="258.6" rx="2.3" ry="2.05"/><ellipse cx="258.9" cy="260.0" rx="2.3" ry="2.05"/><ellipse cx="269.1" cy="259.0" rx="2.3" ry="2.05"/><ellipse cx="275.5" cy="264.5" rx="2.3" ry="2.05"/><ellipse cx="230.5" cy="265.9" rx="2.3" ry="2.05"/><ellipse cx="230.5" cy="268.0" rx="2.3" ry="2.05"/><ellipse cx="229.9" cy="269.8" rx="2.3" ry="2.05"/><ellipse cx="258.5" cy="267.8" rx="2.3" ry="2.05"/><ellipse cx="252.0" cy="269.4" rx="2.3" ry="2.05"/><ellipse cx="265.7" cy="269.0" rx="2.3" ry="2.05"/><ellipse cx="263.4" cy="271.0" rx="2.3" ry="2.05"/><ellipse cx="218.7" cy="280.8" rx="2.3" ry="2.05"/><ellipse cx="232.0" cy="282.2" rx="2.3" ry="2.05"/><ellipse cx="244.2" cy="280.8" rx="2.3" ry="2.05"/><ellipse cx="267.7" cy="280.2" rx="2.3" ry="2.05"/><ellipse cx="279.1" cy="278.8" rx="2.3" ry="2.05"/><ellipse cx="211.2" cy="286.1" rx="2.3" ry="2.05"/><ellipse cx="264.2" cy="285.5" rx="2.3" ry="2.05"/><ellipse cx="268.7" cy="286.5" rx="2.3" ry="2.05"/><ellipse cx="269.7" cy="288.0" rx="2.3" ry="2.05"/><ellipse cx="272.0" cy="288.4" rx="2.3" ry="2.05"/><ellipse cx="235.9" cy="289.0" rx="2.3" ry="2.05"/><ellipse cx="232.4" cy="290.6" rx="2.3" ry="2.05"/><ellipse cx="231.4" cy="293.9" rx="2.3" ry="2.05"/><ellipse cx="250.1" cy="292.9" rx="2.3" ry="2.05"/><ellipse cx="274.0" cy="292.9" rx="2.3" ry="2.05"/><ellipse cx="255.9" cy="296.9" rx="2.3" ry="2.05"/><ellipse cx="258.9" cy="296.5" rx="2.3" ry="2.05"/><ellipse cx="275.9" cy="296.9" rx="2.3" ry="2.05"/><ellipse cx="281.0" cy="296.9" rx="2.3" ry="2.05"/><ellipse cx="277.1" cy="299.4" rx="2.3" ry="2.05"/><ellipse cx="268.7" cy="309.2" rx="2.3" ry="2.05"/><ellipse cx="236.3" cy="315.1" rx="2.3" ry="2.05"/><ellipse cx="263.8" cy="313.5" rx="2.3" ry="2.05"/><ellipse cx="277.1" cy="314.5" rx="2.3" ry="2.05"/><ellipse cx="220.6" cy="316.5" rx="2.3" ry="2.05"/><ellipse cx="281.0" cy="316.5" rx="2.3" ry="2.05"/><ellipse cx="273.0" cy="318.9" rx="2.3" ry="2.05"/><ellipse cx="276.9" cy="319.8" rx="2.3" ry="2.05"/><ellipse cx="239.9" cy="321.2" rx="2.3" ry="2.05"/><ellipse cx="272.0" cy="323.8" rx="2.3" ry="2.05"/><ellipse cx="210.8" cy="324.9" rx="2.3" ry="2.05"/><ellipse cx="226.1" cy="324.9" rx="2.3" ry="2.05"/><ellipse cx="235.9" cy="325.1" rx="2.3" ry="2.05"/><ellipse cx="248.5" cy="328.7" rx="2.3" ry="2.05"/><ellipse cx="252.4" cy="330.0" rx="2.3" ry="2.05"/><ellipse cx="253.6" cy="332.2" rx="2.3" ry="2.05"/><ellipse cx="259.3" cy="332.2" rx="2.3" ry="2.05"/><ellipse cx="239.9" cy="333.6" rx="2.3" ry="2.05"/><ellipse cx="266.3" cy="337.9" rx="2.3" ry="2.05"/><ellipse cx="270.6" cy="338.1" rx="2.3" ry="2.05"/><ellipse cx="258.9" cy="339.1" rx="2.3" ry="2.05"/><ellipse cx="260.8" cy="353.6" rx="2.3" ry="2.05"/><ellipse cx="246.5" cy="355.5" rx="2.3" ry="2.05"/><ellipse cx="260.8" cy="363.0" rx="2.3" ry="2.05"/><ellipse cx="218.7" cy="392.3" rx="2.3" ry="2.05"/><ellipse cx="268.1" cy="391.7" rx="2.3" ry="2.05"/><ellipse cx="272.0" cy="397.9" rx="2.3" ry="2.05"/><ellipse cx="289.2" cy="254.7" rx="2.3" ry="2.05"/><ellipse cx="307.1" cy="254.3" rx="2.3" ry="2.05"/><ellipse cx="309.4" cy="254.3" rx="2.3" ry="2.05"/><ellipse cx="289.2" cy="272.4" rx="2.3" ry="2.05"/><ellipse cx="282.4" cy="278.6" rx="2.3" ry="2.05"/><ellipse cx="311.8" cy="284.5" rx="2.3" ry="2.05"/><ellipse cx="321.8" cy="282.7" rx="2.3" ry="2.05"/><ellipse cx="322.8" cy="284.3" rx="2.3" ry="2.05"/><ellipse cx="302.6" cy="292.9" rx="2.3" ry="2.05"/><ellipse cx="314.9" cy="294.9" rx="2.3" ry="2.05"/><ellipse cx="332.6" cy="297.5" rx="2.3" ry="2.05"/><ellipse cx="298.6" cy="301.2" rx="2.3" ry="2.05"/><ellipse cx="297.1" cy="302.7" rx="2.3" ry="2.05"/><ellipse cx="307.5" cy="301.4" rx="2.3" ry="2.05"/><ellipse cx="353.5" cy="302.7" rx="2.3" ry="2.05"/><ellipse cx="289.2" cy="307.6" rx="2.3" ry="2.05"/><ellipse cx="286.3" cy="309.0" rx="2.3" ry="2.05"/><ellipse cx="291.8" cy="309.2" rx="2.3" ry="2.05"/><ellipse cx="299.6" cy="310.2" rx="2.3" ry="2.05"/><ellipse cx="301.6" cy="312.2" rx="2.3" ry="2.05"/><ellipse cx="347.7" cy="310.0" rx="2.3" ry="2.05"/><ellipse cx="326.5" cy="313.1" rx="2.3" ry="2.05"/><ellipse cx="340.2" cy="313.9" rx="2.3" ry="2.05"/><ellipse cx="290.2" cy="315.5" rx="2.3" ry="2.05"/><ellipse cx="282.4" cy="322.4" rx="2.3" ry="2.05"/><ellipse cx="297.7" cy="325.3" rx="2.3" ry="2.05"/><ellipse cx="338.5" cy="332.6" rx="2.3" ry="2.05"/><ellipse cx="326.5" cy="337.5" rx="2.3" ry="2.05"/><ellipse cx="283.9" cy="340.8" rx="2.3" ry="2.05"/><ellipse cx="294.7" cy="340.8" rx="2.3" ry="2.05"/><ellipse cx="287.9" cy="355.1" rx="2.3" ry="2.05"/><ellipse cx="300.2" cy="358.7" rx="2.3" ry="2.05"/><ellipse cx="295.7" cy="372.2" rx="2.3" ry="2.05"/><ellipse cx="292.2" cy="380.6" rx="2.3" ry="2.05"/><ellipse cx="294.3" cy="399.5" rx="2.3" ry="2.05"/></g>
<polygon points="210.5,283.8 214.1,284.9 217.7,285.9 221.2,287.0 224.8,288.0 228.4,289.0 231.9,290.0 235.5,291.0 239.1,291.9 242.7,292.8 246.2,293.7 249.8,294.6 253.4,295.4 257.0,296.1 260.6,296.8 264.1,297.4 267.7,297.9 271.3,298.4 274.9,298.7 278.4,299.0 282.0,299.2 285.6,299.3 289.1,299.3 292.7,299.3 296.3,299.2 299.9,299.1 303.4,299.0 307.0,298.8 310.6,298.6 314.2,298.3 317.8,298.1 321.3,297.8 324.9,297.5 328.5,297.2 332.1,296.9 335.6,296.6 339.2,296.3 342.8,296.0 346.4,295.6 349.9,295.3 353.5,294.9 353.5,332.5 349.9,331.4 346.4,330.3 342.8,329.2 339.2,328.1 335.6,327.1 332.1,326.0 328.5,325.0 324.9,323.9 321.3,322.9 317.8,321.9 314.2,320.9 310.6,319.9 307.0,318.9 303.4,318.0 299.9,317.1 296.3,316.2 292.7,315.4 289.1,314.7 285.6,313.9 282.0,313.3 278.4,312.8 274.9,312.3 271.3,311.9 267.7,311.6 264.1,311.4 260.6,311.2 257.0,311.2 253.4,311.2 249.8,311.2 246.2,311.3 242.7,311.5 239.1,311.6 235.5,311.8 231.9,312.1 228.4,312.3 224.8,312.6 221.2,312.9 217.7,313.2 214.1,313.5 210.5,313.8" fill="#999" fill-opacity="0.4"/>
<line x1="210.5" y1="298.8" x2="353.5" y2="313.7" stroke="#3366ff" stroke-width="1.8"/>
</g>
<rect x="203.8" y="240.4" width="156.7" height="166.0" fill="none" stroke="#5a5a5a" stroke-width="0.9"/>
<rect x="203.8" y="223.5" width="156.7" height="16.9" fill="#d9d9d9" stroke="#5a5a5a" stroke-width="0.9"/>
<text x="282.15" y="234.9" font-size="8.4" fill="#1a1a1a" text-anchor="middle">Consensous PPV (%)</text>
<text x="199.1" y="402.7" font-size="8.3" fill="#4d4d4d" text-anchor="end">50</text>
<text x="199.1" y="372.5" font-size="8.3" fill="#4d4d4d" text-anchor="end">60</text>
<text x="199.1" y="342.3" font-size="8.3" fill="#4d4d4d" text-anchor="end">70</text>
<text x="199.1" y="312.1" font-size="8.3" fill="#4d4d4d" text-anchor="end">80</text>
<text x="199.1" y="281.9" font-size="8.3" fill="#4d4d4d" text-anchor="end">90</text>
<text x="199.1" y="251.7" font-size="8.3" fill="#4d4d4d" text-anchor="end">100</text>
<text x="237.0" y="417.3" font-size="8.3" fill="#4d4d4d" text-anchor="middle">-10</text>
<text x="271.1" y="417.3" font-size="8.3" fill="#4d4d4d" text-anchor="middle">0</text>
<text x="305.2" y="417.3" font-size="8.3" fill="#4d4d4d" text-anchor="middle">10</text>
<text x="339.3" y="417.3" font-size="8.3" fill="#4d4d4d" text-anchor="middle">20</text>
<path d="M200.8 399.4H203.8M200.8 369.2H203.8M200.8 339.0H203.8M200.8 308.8H203.8M200.8 278.6H203.8M200.8 248.4H203.8M237.0 406.4V409.4M271.1 406.4V409.4M305.2 406.4V409.4M339.3 406.4V409.4" stroke="#333" stroke-width="1" fill="none"/>
<clipPath id="c12"><rect x="385.8" y="240.4" width="157.0" height="166.0"/></clipPath>
<rect x="385.8" y="240.4" width="157.0" height="166.0" fill="#fff"/>
<path d="M385.8 383.9H542.8M385.8 329.7H542.8M385.8 275.5H542.8M402.0 240.4V406.4M436.1 240.4V406.4M470.2 240.4V406.4M504.2 240.4V406.4M538.4 240.4V406.4" stroke="#ececec" stroke-width="0.4" fill="none"/>
<path d="M385.8 356.8H542.8M385.8 302.6H542.8M385.8 248.4H542.8M419.0 240.4V406.4M453.1 240.4V406.4M487.2 240.4V406.4M521.3 240.4V406.4" stroke="#dedede" stroke-width="0.6" fill="none"/>
<g clip-path="url(#c12)">
<g fill="#000"><ellipse cx="414.0" cy="248.2" rx="2.3" ry="2.05"/><ellipse cx="419.3" cy="248.2" rx="2.3" ry="2.05"/><ellipse cx="438.3" cy="248.2" rx="2.3" ry="2.05"/><ellipse cx="447.7" cy="248.2" rx="2.3" ry="2.05"/><ellipse cx="452.6" cy="249.2" rx="2.3" ry="2.05"/><ellipse cx="443.8" cy="258.2" rx="2.3" ry="2.05"/><ellipse cx="451.1" cy="259.0" rx="2.3" ry="2.05"/><ellipse cx="457.5" cy="264.5" rx="2.3" ry="2.05"/><ellipse cx="423.8" cy="266.1" rx="2.3" ry="2.05"/><ellipse cx="440.9" cy="265.9" rx="2.3" ry="2.05"/><ellipse cx="440.9" cy="267.8" rx="2.3" ry="2.05"/><ellipse cx="447.7" cy="267.1" rx="2.3" ry="2.05"/><ellipse cx="411.9" cy="268.8" rx="2.3" ry="2.05"/><ellipse cx="413.0" cy="269.6" rx="2.3" ry="2.05"/><ellipse cx="445.4" cy="270.4" rx="2.3" ry="2.05"/><ellipse cx="434.0" cy="272.4" rx="2.3" ry="2.05"/><ellipse cx="464.0" cy="279.8" rx="2.3" ry="2.05"/><ellipse cx="400.7" cy="283.7" rx="2.3" ry="2.05"/><ellipse cx="449.7" cy="284.1" rx="2.3" ry="2.05"/><ellipse cx="461.1" cy="284.5" rx="2.3" ry="2.05"/><ellipse cx="393.2" cy="286.1" rx="2.3" ry="2.05"/><ellipse cx="414.0" cy="288.0" rx="2.3" ry="2.05"/><ellipse cx="426.2" cy="287.6" rx="2.3" ry="2.05"/><ellipse cx="446.2" cy="288.0" rx="2.3" ry="2.05"/><ellipse cx="454.0" cy="288.6" rx="2.3" ry="2.05"/><ellipse cx="450.7" cy="290.6" rx="2.3" ry="2.05"/><ellipse cx="451.7" cy="291.6" rx="2.3" ry="2.05"/><ellipse cx="417.9" cy="291.4" rx="2.3" ry="2.05"/><ellipse cx="413.4" cy="292.5" rx="2.3" ry="2.05"/><ellipse cx="414.4" cy="295.3" rx="2.3" ry="2.05"/><ellipse cx="437.9" cy="293.5" rx="2.3" ry="2.05"/><ellipse cx="440.9" cy="294.5" rx="2.3" ry="2.05"/><ellipse cx="463.0" cy="293.9" rx="2.3" ry="2.05"/><ellipse cx="457.9" cy="294.9" rx="2.3" ry="2.05"/><ellipse cx="459.5" cy="295.1" rx="2.3" ry="2.05"/><ellipse cx="456.6" cy="300.8" rx="2.3" ry="2.05"/><ellipse cx="450.7" cy="308.0" rx="2.3" ry="2.05"/><ellipse cx="402.6" cy="311.0" rx="2.3" ry="2.05"/><ellipse cx="463.0" cy="311.6" rx="2.3" ry="2.05"/><ellipse cx="445.8" cy="314.5" rx="2.3" ry="2.05"/><ellipse cx="459.1" cy="317.1" rx="2.3" ry="2.05"/><ellipse cx="432.1" cy="317.9" rx="2.3" ry="2.05"/><ellipse cx="421.9" cy="319.5" rx="2.3" ry="2.05"/><ellipse cx="455.0" cy="318.9" rx="2.3" ry="2.05"/><ellipse cx="459.1" cy="320.2" rx="2.3" ry="2.05"/><ellipse cx="464.0" cy="318.9" rx="2.3" ry="2.05"/><ellipse cx="392.5" cy="323.2" rx="2.3" ry="2.05"/><ellipse cx="418.3" cy="327.1" rx="2.3" ry="2.05"/><ellipse cx="421.9" cy="327.3" rx="2.3" ry="2.05"/><ellipse cx="417.9" cy="328.7" rx="2.3" ry="2.05"/><ellipse cx="408.1" cy="329.3" rx="2.3" ry="2.05"/><ellipse cx="435.6" cy="326.7" rx="2.3" ry="2.05"/><ellipse cx="436.4" cy="328.3" rx="2.3" ry="2.05"/><ellipse cx="454.0" cy="326.7" rx="2.3" ry="2.05"/><ellipse cx="441.5" cy="329.6" rx="2.3" ry="2.05"/><ellipse cx="441.3" cy="333.6" rx="2.3" ry="2.05"/><ellipse cx="448.3" cy="333.6" rx="2.3" ry="2.05"/><ellipse cx="452.6" cy="336.9" rx="2.3" ry="2.05"/><ellipse cx="430.5" cy="338.5" rx="2.3" ry="2.05"/><ellipse cx="434.4" cy="345.7" rx="2.3" ry="2.05"/><ellipse cx="442.8" cy="352.6" rx="2.3" ry="2.05"/><ellipse cx="428.5" cy="362.0" rx="2.3" ry="2.05"/><ellipse cx="443.2" cy="361.6" rx="2.3" ry="2.05"/><ellipse cx="450.1" cy="384.2" rx="2.3" ry="2.05"/><ellipse cx="454.4" cy="385.5" rx="2.3" ry="2.05"/><ellipse cx="400.7" cy="399.5" rx="2.3" ry="2.05"/><ellipse cx="471.2" cy="254.7" rx="2.3" ry="2.05"/><ellipse cx="489.1" cy="253.7" rx="2.3" ry="2.05"/><ellipse cx="491.4" cy="253.7" rx="2.3" ry="2.05"/><ellipse cx="471.2" cy="270.0" rx="2.3" ry="2.05"/><ellipse cx="465.9" cy="282.5" rx="2.3" ry="2.05"/><ellipse cx="493.8" cy="282.5" rx="2.3" ry="2.05"/><ellipse cx="504.8" cy="283.5" rx="2.3" ry="2.05"/><ellipse cx="503.8" cy="285.7" rx="2.3" ry="2.05"/><ellipse cx="496.9" cy="292.5" rx="2.3" ry="2.05"/><ellipse cx="479.3" cy="297.5" rx="2.3" ry="2.05"/><ellipse cx="489.5" cy="297.5" rx="2.3" ry="2.05"/><ellipse cx="484.6" cy="301.2" rx="2.3" ry="2.05"/><ellipse cx="514.6" cy="301.2" rx="2.3" ry="2.05"/><ellipse cx="473.2" cy="304.1" rx="2.3" ry="2.05"/><ellipse cx="480.6" cy="304.7" rx="2.3" ry="2.05"/><ellipse cx="535.5" cy="307.1" rx="2.3" ry="2.05"/><ellipse cx="471.2" cy="309.0" rx="2.3" ry="2.05"/><ellipse cx="468.3" cy="309.6" rx="2.3" ry="2.05"/><ellipse cx="483.6" cy="310.0" rx="2.3" ry="2.05"/><ellipse cx="508.5" cy="311.0" rx="2.3" ry="2.05"/><ellipse cx="529.7" cy="311.0" rx="2.3" ry="2.05"/><ellipse cx="472.2" cy="321.8" rx="2.3" ry="2.05"/><ellipse cx="481.6" cy="323.2" rx="2.3" ry="2.05"/><ellipse cx="522.2" cy="325.3" rx="2.3" ry="2.05"/><ellipse cx="508.5" cy="334.0" rx="2.3" ry="2.05"/><ellipse cx="520.5" cy="334.9" rx="2.3" ry="2.05"/><ellipse cx="479.3" cy="335.5" rx="2.3" ry="2.05"/><ellipse cx="469.9" cy="345.7" rx="2.3" ry="2.05"/><ellipse cx="476.7" cy="360.0" rx="2.3" ry="2.05"/><ellipse cx="477.7" cy="362.2" rx="2.3" ry="2.05"/><ellipse cx="482.6" cy="362.4" rx="2.3" ry="2.05"/><ellipse cx="474.2" cy="392.6" rx="2.3" ry="2.05"/><ellipse cx="476.3" cy="397.9" rx="2.3" ry="2.05"/></g>
<polygon points="392.5,285.6 396.1,286.6 399.6,287.6 403.2,288.6 406.8,289.6 410.4,290.5 413.9,291.5 417.5,292.4 421.1,293.3 424.7,294.2 428.2,295.0 431.8,295.8 435.4,296.6 439.0,297.3 442.6,297.9 446.1,298.5 449.7,299.0 453.3,299.4 456.9,299.7 460.4,299.9 464.0,300.1 467.6,300.1 471.1,300.1 474.7,300.1 478.3,300.0 481.9,299.8 485.4,299.6 489.0,299.4 492.6,299.1 496.2,298.9 499.8,298.6 503.3,298.3 506.9,298.0 510.5,297.6 514.0,297.3 517.6,296.9 521.2,296.6 524.8,296.2 528.4,295.8 531.9,295.5 535.5,295.1 535.5,331.9 531.9,330.9 528.4,329.9 524.8,328.8 521.2,327.8 517.6,326.8 514.0,325.8 510.5,324.8 506.9,323.8 503.3,322.8 499.8,321.9 496.2,320.9 492.6,320.0 489.0,319.1 485.4,318.2 481.9,317.4 478.3,316.6 474.7,315.8 471.1,315.1 467.6,314.4 464.0,313.8 460.4,313.3 456.9,312.9 453.3,312.6 449.7,312.3 446.1,312.2 442.6,312.1 439.0,312.1 435.4,312.1 431.8,312.2 428.2,312.3 424.7,312.5 421.1,312.7 417.5,313.0 413.9,313.3 410.4,313.5 406.8,313.8 403.2,314.2 399.6,314.5 396.1,314.8 392.5,315.2" fill="#999" fill-opacity="0.4"/>
<line x1="392.5" y1="300.4" x2="535.5" y2="313.5" stroke="#3366ff" stroke-width="1.8"/>
</g>
<rect x="385.8" y="240.4" width="157.0" height="166.0" fill="none" stroke="#5a5a5a" stroke-width="0.9"/>
<rect x="385.8" y="223.5" width="157.0" height="16.9" fill="#d9d9d9" stroke="#5a5a5a" stroke-width="0.9"/>
<text x="464.29999999999995" y="234.9" font-size="8.4" fill="#1a1a1a" text-anchor="middle">Consensous PPV (small) (%)</text>
<text x="381.1" y="360.1" font-size="8.3" fill="#4d4d4d" text-anchor="end">60</text>
<text x="381.1" y="305.9" font-size="8.3" fill="#4d4d4d" text-anchor="end">80</text>
<text x="381.1" y="251.7" font-size="8.3" fill="#4d4d4d" text-anchor="end">100</text>
<text x="419.0" y="417.3" font-size="8.3" fill="#4d4d4d" text-anchor="middle">-10</text>
<text x="453.1" y="417.3" font-size="8.3" fill="#4d4d4d" text-anchor="middle">0</text>
<text x="487.2" y="417.3" font-size="8.3" fill="#4d4d4d" text-anchor="middle">10</text>
<text x="521.3" y="417.3" font-size="8.3" fill="#4d4d4d" text-anchor="middle">20</text>
<path d="M382.8 356.8H385.8M382.8 302.6H385.8M382.8 248.4H385.8M419.0 406.4V409.4M453.1 406.4V409.4M487.2 406.4V409.4M521.3 406.4V409.4" stroke="#333" stroke-width="1" fill="none"/>
<text x="282" y="427.6" font-size="10.5" fill="#000" text-anchor="middle">Calculated Plasma Volume Status (%)</text>
<text x="6.3" y="231.4" font-size="12.5" font-weight="bold" fill="#000">B</text>
</svg></body></html>
